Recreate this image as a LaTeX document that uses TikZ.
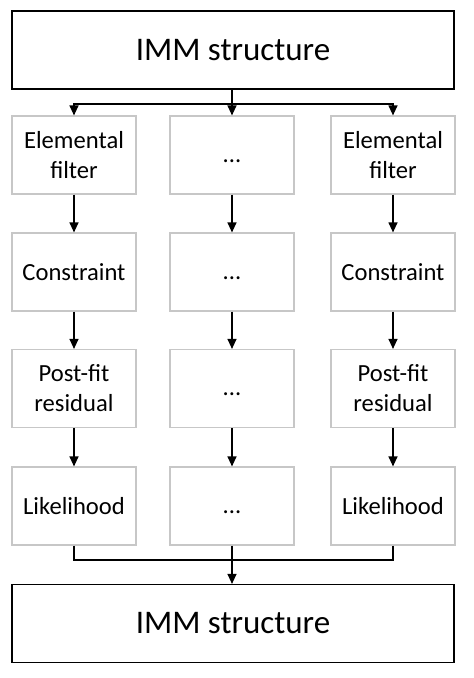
\documentclass[tikz,border=0pt]{standalone}
\usepackage{fontspec}
\setmainfont{Carlito}
\usetikzlibrary{arrows.meta,calc}
\begin{document}
\begin{tikzpicture}[x=1pt,y=-1pt,
  bigbox/.style={draw=black,line width=1.2pt,minimum width=442pt,minimum height=78pt,inner sep=0pt,font=\fontsize{33}{39}\selectfont},
  smallbox/.style={draw=black!22,line width=1.2pt,minimum width=124pt,minimum height=78pt,inner sep=0pt},
  lbl/.style={align=center,inner sep=0pt,font=\fontsize{24.6}{30}\selectfont},
  conn/.style={line width=1.2pt,draw=black},
  arr/.style={conn,-{Triangle[length=10pt,width=9pt]}}]
\useasboundingbox (0,0) rectangle (474,678);
\node[bigbox] (top) at (233,50) {IMM structure};
\node[bigbox] (bot) at (233,623.5) {IMM structure};
\foreach \c/\x in {a/74,b/232,c/393}{
  \node[smallbox] (\c1) at (\x,155) {};
  \node[smallbox] (\c2) at (\x,272) {};
  \node[smallbox] (\c3) at (\x,388.5) {};
  \node[smallbox] (\c4) at (\x,506) {};
}
\node[lbl] (ta1) at (a1) {Elemental\\filter};
\node[lbl] (tc1) at (c1) {Elemental\\filter};
\node[lbl] (ta2) at (a2) {Constraint};
\node[lbl] (tc2) at (c2) {Constraint};
\node[lbl] (ta3) at (a3) {Post-fit\\residual};
\node[lbl] (tc3) at (c3) {Post-fit\\residual};
\node[lbl] (ta4) at (a4) {Likelihood};
\node[lbl] (tc4) at (c4) {Likelihood};
\foreach \r in {1,2,3,4}{
  \node[lbl] (tb\r) at ($(b\r)+(0,6)$) {...};
}
\coordinate (split) at (232,104);
\draw[conn] (top.south -| split) -- (split);
\draw[arr] (split) -| (a1.north);
\draw[arr] (split) -| (c1.north);
\draw[arr] (split) -- (b1.north);
\foreach \c in {a,b,c}{
  \draw[arr] (\c1) -- (\c2);
  \draw[arr] (\c2) -- (\c3);
  \draw[arr] (\c3) -- (\c4);
}
\coordinate (join) at (232,560);
\draw[conn] (a4.south) |- (join);
\draw[conn] (c4.south) |- (join);
\draw[arr] (b4.south) -- (bot.north -| b4);
\end{tikzpicture}
\end{document}
